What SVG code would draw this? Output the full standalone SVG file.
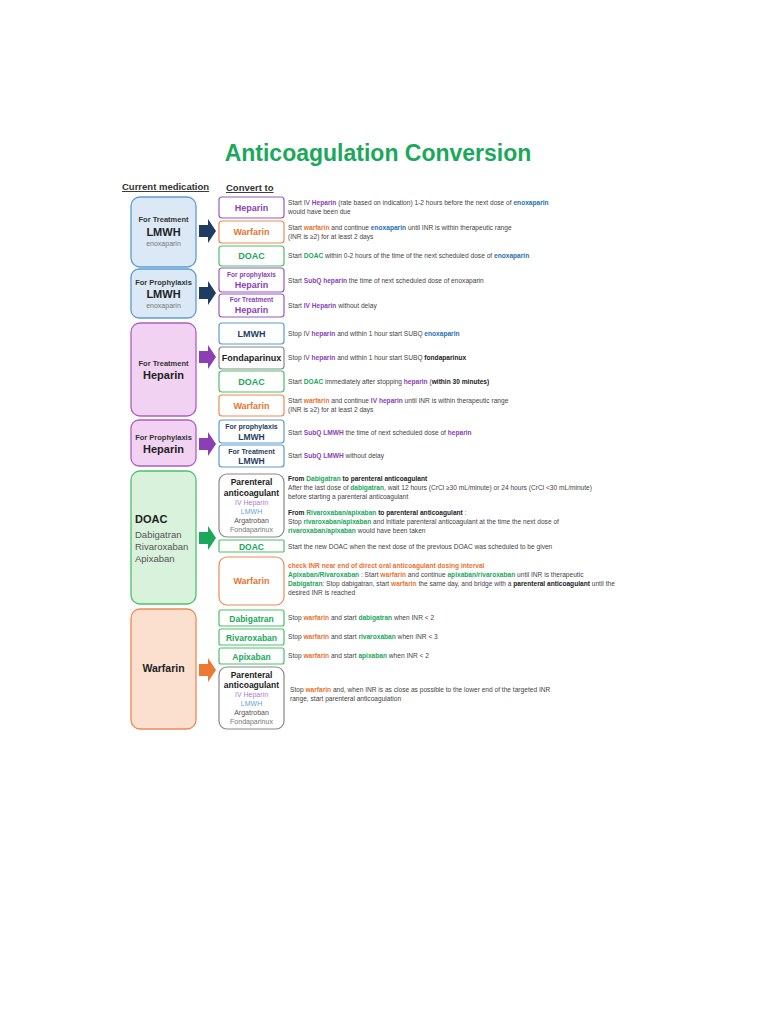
<svg xmlns="http://www.w3.org/2000/svg" width="768" height="1024" viewBox="0 0 768 1024">
<style>
text{font-family:"Liberation Sans",Arial,sans-serif}
.l{stroke-width:1.3}
.b{fill:#fff;stroke-width:1.2}
.t{font-size:6.6px;fill:#444}
.pu{fill:#8a3fb5;font-weight:bold}
.bl{fill:#2a6fb5;font-weight:bold}
.or{fill:#e8732f;font-weight:bold}
.gr{fill:#1aa85a;font-weight:bold}
.bk{fill:#222;font-weight:bold}
.c{text-anchor:middle}
</style>
<rect width="768" height="1024" fill="#fff"/>
<text x="378" y="161" class="c" font-size="23" font-weight="bold" fill="#1aa85a">Anticoagulation Conversion</text>
<text x="122" y="190" font-size="9.5" font-weight="bold" fill="#333" text-decoration="underline">Current medication</text>
<text x="226" y="191" font-size="9.5" font-weight="bold" fill="#333" text-decoration="underline">Convert to</text>

<g id="left">
<rect x="131" y="197" width="65" height="70" rx="9" fill="#dbe9f6" stroke="#5b9bd5" class="l"/>
<text x="163.5" y="222" class="c" font-size="7.5" font-weight="bold" fill="#333">For Treatment</text>
<text x="163.5" y="236" class="c" font-size="11" font-weight="bold" fill="#222">LMWH</text>
<text x="163.5" y="246" class="c" font-size="7" fill="#777">enoxaparin</text>
<rect x="131" y="269" width="65" height="49" rx="8" fill="#dbe9f6" stroke="#5b9bd5" class="l"/>
<text x="163.5" y="285" class="c" font-size="7.5" font-weight="bold" fill="#333">For Prophylaxis</text>
<text x="163.5" y="298" class="c" font-size="11" font-weight="bold" fill="#222">LMWH</text>
<text x="163.5" y="308" class="c" font-size="7" fill="#777">enoxaparin</text>
<rect x="131" y="323" width="65" height="93" rx="9" fill="#f2d2f2" stroke="#b05cc0" class="l"/>
<text x="163.5" y="366" class="c" font-size="7.5" font-weight="bold" fill="#333">For Treatment</text>
<text x="163.5" y="379" class="c" font-size="11" font-weight="bold" fill="#222">Heparin</text>
<rect x="131" y="420" width="65" height="46" rx="8" fill="#f2d2f2" stroke="#b05cc0" class="l"/>
<text x="163.5" y="440" class="c" font-size="7.5" font-weight="bold" fill="#333">For Prophylaxis</text>
<text x="163.5" y="453" class="c" font-size="11" font-weight="bold" fill="#222">Heparin</text>
<rect x="131" y="471" width="65" height="133" rx="9" fill="#d9f2dc" stroke="#4cc06a" class="l"/>
<text x="135" y="523" font-size="11" font-weight="bold" fill="#222">DOAC</text>
<text x="135" y="538" font-size="9.5" fill="#555">Dabigatran</text>
<text x="135" y="550" font-size="9.5" fill="#555">Rivaroxaban</text>
<text x="135" y="562" font-size="9.5" fill="#555">Apixaban</text>
<rect x="131" y="609" width="65" height="120" rx="9" fill="#fbe0d0" stroke="#ec8a55" class="l"/>
<text x="163.5" y="672" class="c" font-size="10.5" font-weight="bold" fill="#222">Warfarin</text>
</g>

<g id="connectors">
<polygon points="199,225 208,225 208,219 216,231 208,243 208,237 199,237" fill="#1f3d63"/>
<polygon points="199,287 208,287 208,281 216,293 208,305 208,299 199,299" fill="#1f3d63"/>
<polygon points="199,351 208,351 208,345 216,357 208,369 208,363 199,363" fill="#8a3fb5"/>
<polygon points="199,438 208,438 208,432 216,444 208,456 208,450 199,450" fill="#8a3fb5"/>
<polygon points="199,532 208,532 208,526 216,538 208,550 208,544 199,544" fill="#1aa85a"/>
<polygon points="199,664 208,664 208,658 216,670 208,682 208,676 199,676" fill="#ec7a35"/>
</g>

<g id="right" font-weight="bold">
<rect x="219" y="197" width="65" height="21" rx="3" class="b" stroke="#9b59c0"/>
<text x="251.5" y="211" class="c" font-size="9" fill="#8a3fb5">Heparin</text>
<rect x="219" y="221" width="65" height="22" rx="3" class="b" stroke="#ec8a55"/>
<text x="251.5" y="235" class="c" font-size="9" fill="#e8732f">Warfarin</text>
<rect x="219" y="246" width="65" height="20" rx="3" class="b" stroke="#4cc06a"/>
<text x="251.5" y="259" class="c" font-size="9" fill="#1aa85a">DOAC</text>
<rect x="219" y="268" width="65" height="24" rx="3" class="b" stroke="#9b59c0"/>
<text x="251.5" y="277" class="c" font-size="6.5" fill="#8a3fb5">For prophylaxis</text>
<text x="251.5" y="288" class="c" font-size="9" fill="#8a3fb5">Heparin</text>
<rect x="219" y="294" width="65" height="23" rx="3" class="b" stroke="#9b59c0"/>
<text x="251.5" y="302" class="c" font-size="6.5" fill="#8a3fb5">For Treatment</text>
<text x="251.5" y="313" class="c" font-size="9" fill="#8a3fb5">Heparin</text>

<rect x="219" y="323" width="65" height="21" rx="3" class="b" stroke="#5b9bd5"/>
<text x="251.5" y="337" class="c" font-size="9" fill="#1f3d63">LMWH</text>
<rect x="219" y="347" width="65" height="22" rx="3" class="b" stroke="#888"/>
<text x="251.5" y="361" class="c" font-size="9" fill="#222">Fondaparinux</text>
<rect x="219" y="371" width="65" height="21" rx="3" class="b" stroke="#4cc06a"/>
<text x="251.5" y="385" class="c" font-size="9" fill="#1aa85a">DOAC</text>
<rect x="219" y="395" width="65" height="21" rx="3" class="b" stroke="#ec8a55"/>
<text x="251.5" y="409" class="c" font-size="9" fill="#e8732f">Warfarin</text>
<rect x="219" y="420" width="65" height="23" rx="3" class="b" stroke="#5b9bd5"/>
<text x="251.5" y="429" class="c" font-size="7" fill="#1f3d63">For prophylaxis</text>
<text x="251.5" y="440" class="c" font-size="8.5" fill="#1f3d63">LMWH</text>
<rect x="219" y="445" width="65" height="22" rx="3" class="b" stroke="#5b9bd5"/>
<text x="251.5" y="454" class="c" font-size="7" fill="#1f3d63">For Treatment</text>
<text x="251.5" y="464" class="c" font-size="8.5" fill="#1f3d63">LMWH</text>

<rect x="219" y="474" width="65" height="63" rx="8" class="b" stroke="#888"/>
<text x="251.5" y="485" class="c" font-size="8.5" fill="#222">Parenteral</text>
<text x="251.5" y="496" class="c" font-size="8.5" fill="#222">anticoagulant</text>
<text x="251.5" y="505" class="c" font-size="7" font-weight="normal" fill="#b07ad0">IV Heparin</text>
<text x="251.5" y="514" class="c" font-size="7" font-weight="normal" fill="#6a9fd8">LMWH</text>
<text x="251.5" y="523" class="c" font-size="7" font-weight="normal" fill="#555">Argatroban</text>
<text x="251.5" y="532" class="c" font-size="7" font-weight="normal" fill="#777">Fondaparinux</text>
<rect x="219" y="540" width="65" height="12" rx="1" class="b" stroke="#4cc06a"/>
<text x="251.5" y="550" class="c" font-size="8.5" fill="#1aa85a">DOAC</text>
<rect x="219" y="557" width="65" height="48" rx="8" class="b" stroke="#ec8a55"/>
<text x="251.5" y="584" class="c" font-size="9" fill="#e8732f">Warfarin</text>

<rect x="219" y="610" width="65" height="16" rx="2" class="b" stroke="#4cc06a"/>
<text x="251.5" y="621.5" class="c" font-size="8.5" fill="#1aa85a">Dabigatran</text>
<rect x="219" y="629" width="65" height="16" rx="2" class="b" stroke="#4cc06a"/>
<text x="251.5" y="640.5" class="c" font-size="8.5" fill="#1aa85a">Rivaroxaban</text>
<rect x="219" y="648" width="65" height="16" rx="2" class="b" stroke="#4cc06a"/>
<text x="251.5" y="659.5" class="c" font-size="8.5" fill="#1aa85a">Apixaban</text>
<rect x="219" y="667" width="65" height="62" rx="8" class="b" stroke="#888"/>
<text x="251.5" y="678" class="c" font-size="8.5" fill="#222">Parenteral</text>
<text x="251.5" y="688" class="c" font-size="8.5" fill="#222">anticoagulant</text>
<text x="251.5" y="697" class="c" font-size="7" font-weight="normal" fill="#b07ad0">IV Heparin</text>
<text x="251.5" y="706" class="c" font-size="7" font-weight="normal" fill="#6a9fd8">LMWH</text>
<text x="251.5" y="715" class="c" font-size="7" font-weight="normal" fill="#555">Argatroban</text>
<text x="251.5" y="724" class="c" font-size="7" font-weight="normal" fill="#777">Fondaparinux</text>
</g>

<g id="descriptions" class="t">
<text x="288" y="205" class="t">Start IV <tspan class="pu">Heparin</tspan> (rate based on indication) 1-2 hours before the next dose of <tspan class="bl">enoxaparin</tspan></text>
<text x="288" y="214" class="t">would have been due</text>
<text x="288" y="230" class="t">Start <tspan class="or">warfarin</tspan> and continue <tspan class="bl">enoxaparin</tspan> until INR is within therapeutic range</text>
<text x="288" y="239" class="t">(INR is ≥2) for at least 2 days</text>
<text x="288" y="258" class="t">Start <tspan class="gr">DOAC</tspan> within 0-2 hours of the time of the next scheduled dose of <tspan class="bl">enoxaparin</tspan></text>
<text x="288" y="283" class="t">Start <tspan class="pu">SubQ heparin</tspan> the time of next scheduled dose of enoxaparin</text>
<text x="288" y="308" class="t">Start <tspan class="pu">IV Heparin</tspan> without delay</text>
<text x="288" y="336" class="t">Stop IV <tspan class="pu">heparin</tspan> and within 1 hour start SUBQ <tspan class="bl">enoxaparin</tspan></text>
<text x="288" y="360" class="t">Stop IV <tspan class="pu">heparin</tspan> and within 1 hour start SUBQ <tspan class="bk">fondaparinux</tspan></text>
<text x="288" y="384" class="t">Start <tspan class="gr">DOAC</tspan> immediately after stopping <tspan class="pu">heparin</tspan> (<tspan class="bk">within 30 minutes)</tspan></text>
<text x="288" y="403" class="t">Start <tspan class="or">warfarin</tspan> and continue <tspan class="pu">IV heparin</tspan> until INR is within therapeutic range</text>
<text x="288" y="412" class="t">(INR is ≥2) for at least 2 days</text>
<text x="288" y="435" class="t">Start <tspan class="pu">SubQ LMWH</tspan> the time of next scheduled dose of <tspan class="pu">heparin</tspan></text>
<text x="288" y="458" class="t">Start <tspan class="pu">SubQ LMWH</tspan> without delay</text>
<text x="288" y="481" class="t"><tspan class="bk">From </tspan><tspan class="gr">Dabigatran</tspan><tspan class="bk"> to parenteral anticoagulant</tspan></text>
<text x="288" y="490" class="t">After the last dose of <tspan class="gr">dabigatran</tspan>, wait 12 hours (CrCl ≥30 mL/minute) or 24 hours (CrCl &lt;30 mL/minute)</text>
<text x="288" y="499" class="t">before starting a parenteral anticoagulant</text>
<text x="288" y="515" class="t"><tspan class="bk">From </tspan><tspan class="gr">Rivaroxaban/apixaban</tspan><tspan class="bk"> to parenteral anticoagulant</tspan> :</text>
<text x="288" y="524" class="t">Stop <tspan class="gr">rivaroxaban/apixaban</tspan> and initiate parenteral anticoagulant at the time the next dose of</text>
<text x="288" y="533" class="t"><tspan class="gr">rivaroxaban/apixaban</tspan> would have been taken</text>
<text x="288" y="549" class="t">Start the new DOAC when the next dose of the previous DOAC was scheduled to be given</text>
<text x="288" y="568" class="t"><tspan class="or">check INR near end of direct oral anticoagulant dosing interval</tspan></text>
<text x="288" y="577" class="t"><tspan class="gr">Apixaban/Rivaroxaban</tspan> : Start <tspan class="or">warfarin</tspan> and continue <tspan class="gr">apixaban/rivaroxaban</tspan> until INR is therapeutic</text>
<text x="288" y="586" class="t"><tspan class="gr">Dabigatran</tspan>:  Stop dabigatran, start <tspan class="or">warfarin</tspan> the same day, and bridge with a <tspan class="bk">parenteral anticoagulant</tspan> until the</text>
<text x="288" y="595" class="t">desired INR is reached</text>
<text x="288" y="620" class="t">Stop <tspan class="or">warfarin</tspan> and start <tspan class="gr">dabigatran</tspan> when INR &lt; 2</text>
<text x="288" y="639" class="t">Stop <tspan class="or">warfarin</tspan> and start <tspan class="gr">rivaroxaban</tspan> when INR &lt; 3</text>
<text x="288" y="658" class="t">Stop <tspan class="or">warfarin</tspan> and start <tspan class="gr">apixaban</tspan> when INR &lt; 2</text>
<text x="290" y="692" class="t">Stop <tspan class="or">warfarin</tspan> and, when INR is as close as possible to the lower end of the targeted INR</text>
<text x="290" y="701" class="t">range, start parenteral anticoagulation</text>
</g>
</svg>
